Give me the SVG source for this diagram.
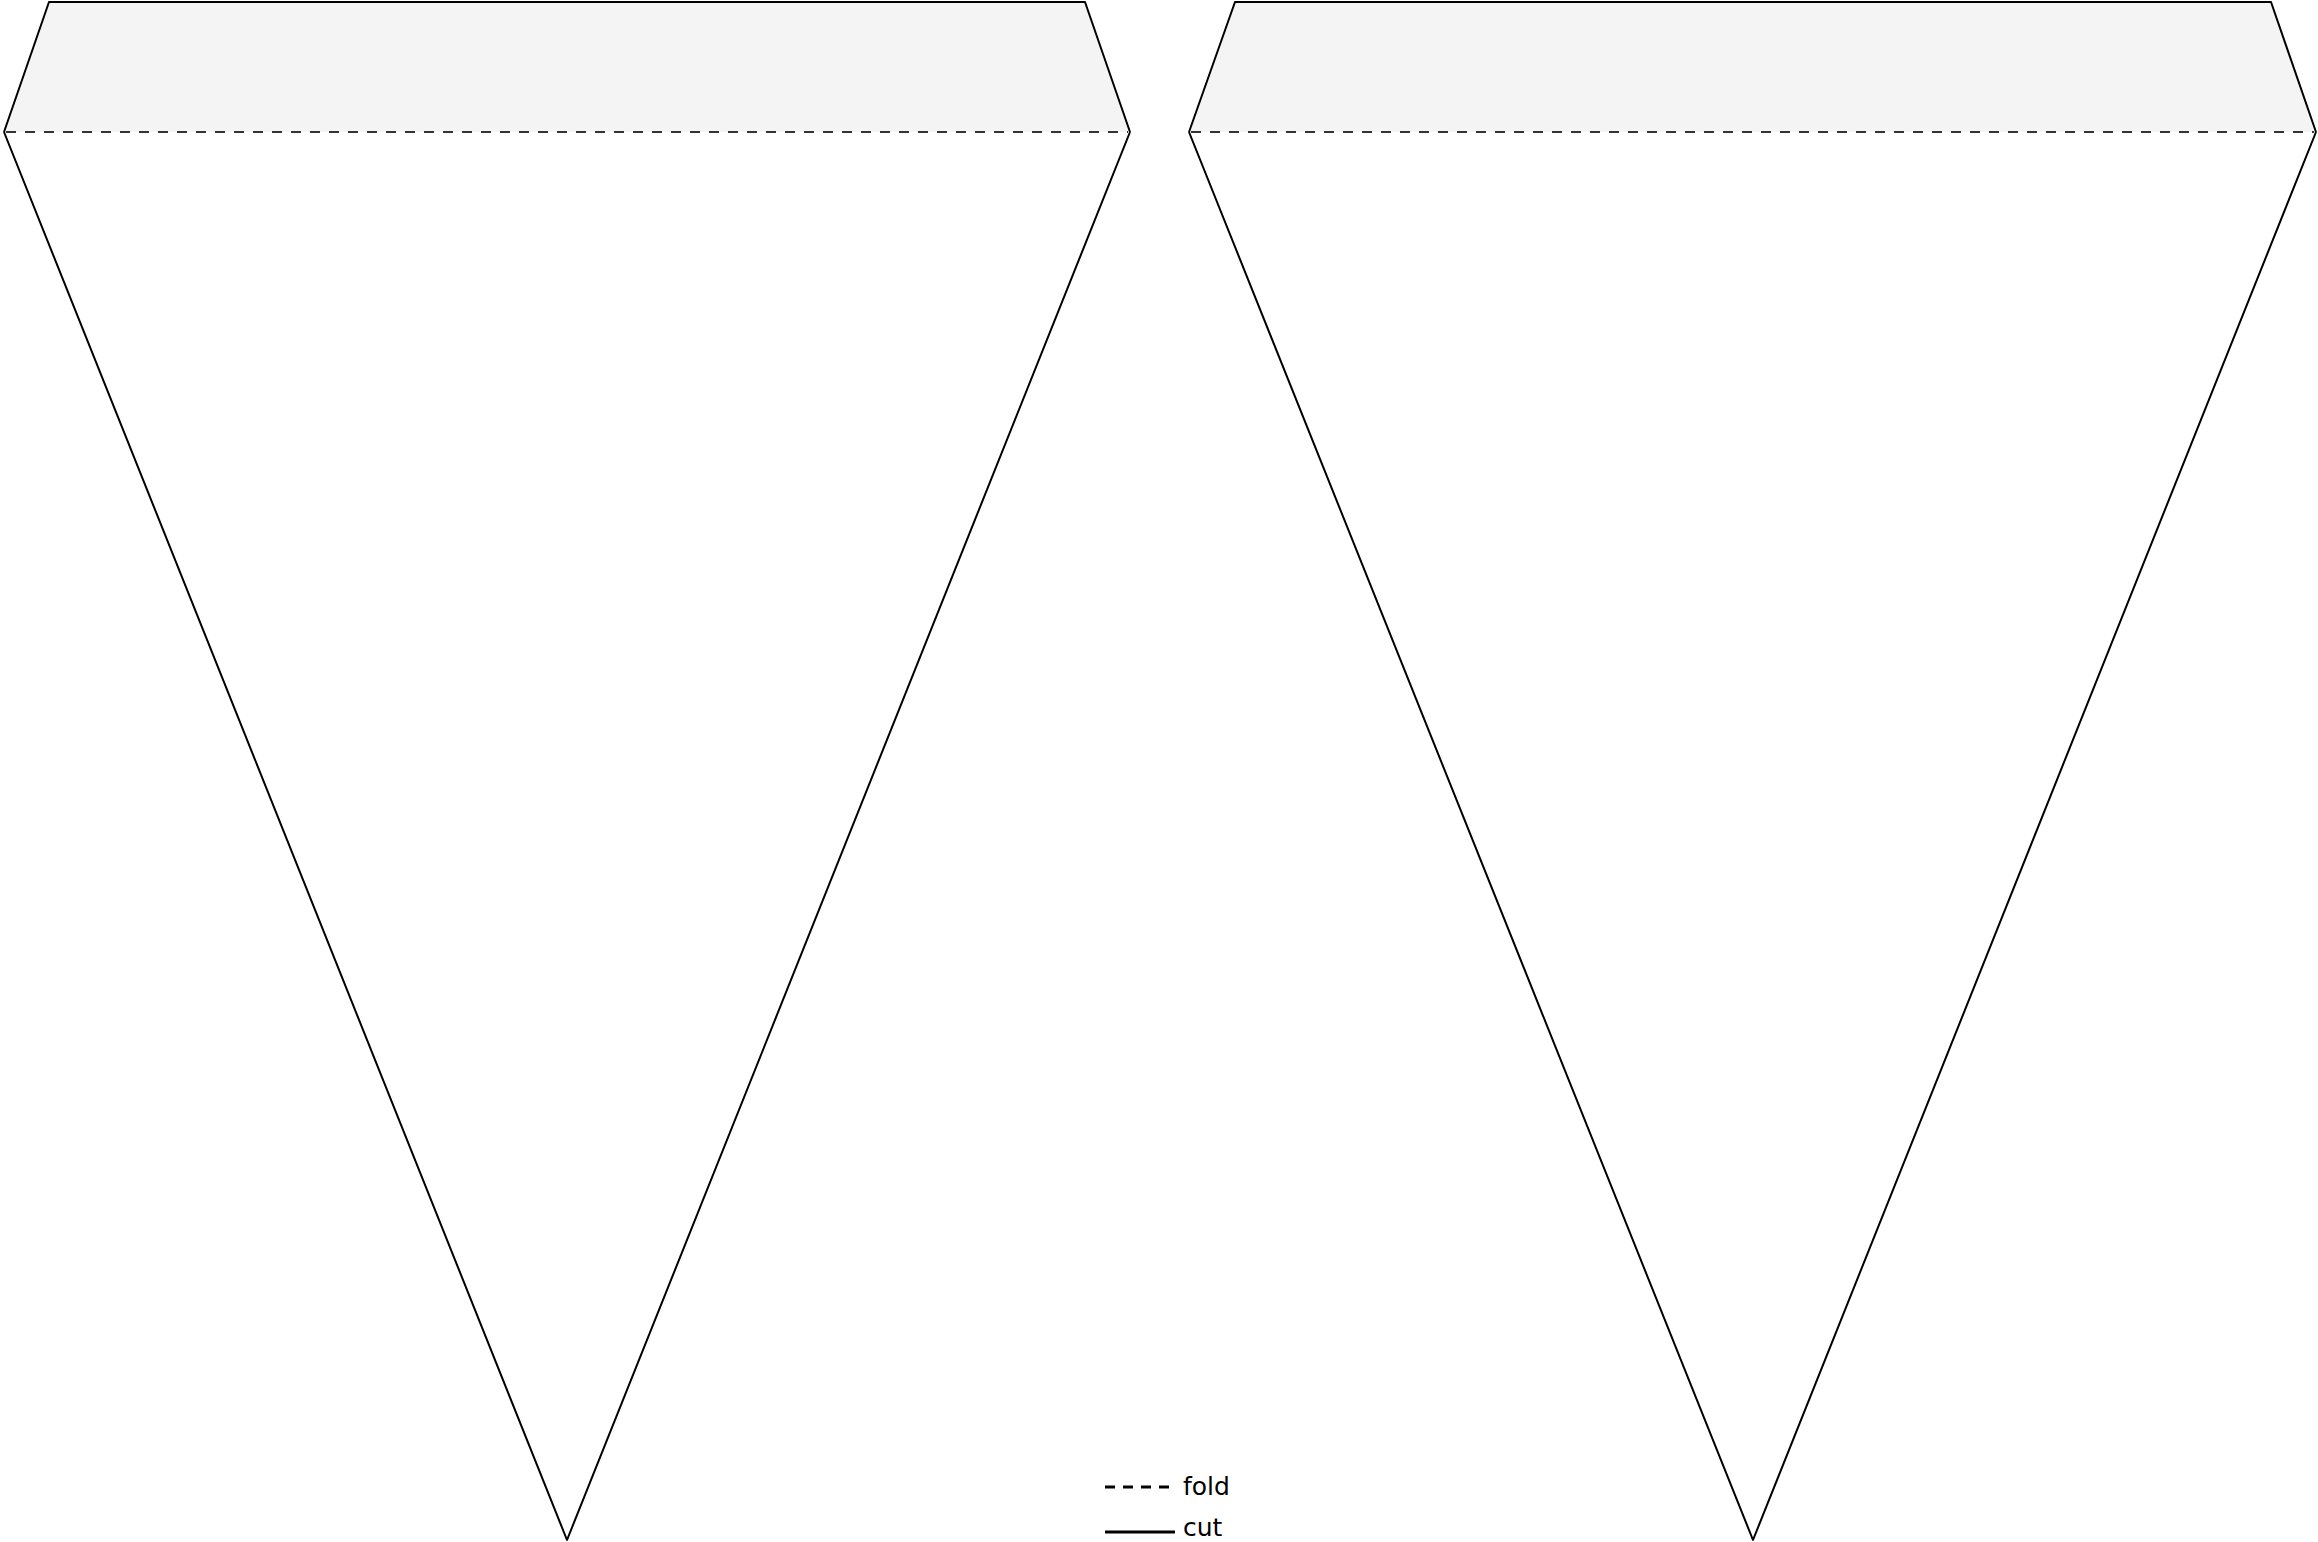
<svg xmlns="http://www.w3.org/2000/svg" width="2318" height="1542" viewBox="0 0 2318 1542">
<style>
.flapfill{fill:#f4f4f4;stroke:none}
.edge{fill:none;stroke:#000;stroke-width:2;stroke-linejoin:round}
.fold{fill:none;stroke:#333;stroke-width:2;stroke-dasharray:10 9}
.lbl{font-family:"DejaVu Sans",sans-serif;font-size:25px;fill:#000}
</style>
<rect width="2318" height="1542" fill="#fff"/>
<g id="pennant-left">
<polygon class="flapfill" points="49,2 1085,2 1130,132 4,132"/>
<polyline class="edge" points="4,132 49,2 1085,2 1130,132"/>
<polyline class="edge" points="4,132 567,1540 1130,132"/>
<line class="fold" x1="6" y1="132" x2="1128" y2="132"/>
</g>
<g id="pennant-right">
<polygon class="flapfill" points="1235,2 2271,2 2316,132 1189,132"/>
<polyline class="edge" points="1189,132 1235,2 2271,2 2316,132"/>
<polyline class="edge" points="1189,132 1753,1540 2316,132"/>
<line class="fold" x1="1191" y1="132" x2="2314" y2="132"/>
</g>
<g id="legend">
<line x1="1105" y1="1487" x2="1173" y2="1487" stroke="#000" stroke-width="3" stroke-dasharray="10 8"/>
<text class="lbl" x="1183" y="1495">fold</text>
<line x1="1105" y1="1532" x2="1175" y2="1532" stroke="#000" stroke-width="3"/>
<text class="lbl" x="1183" y="1536">cut</text>
</g>
</svg>
